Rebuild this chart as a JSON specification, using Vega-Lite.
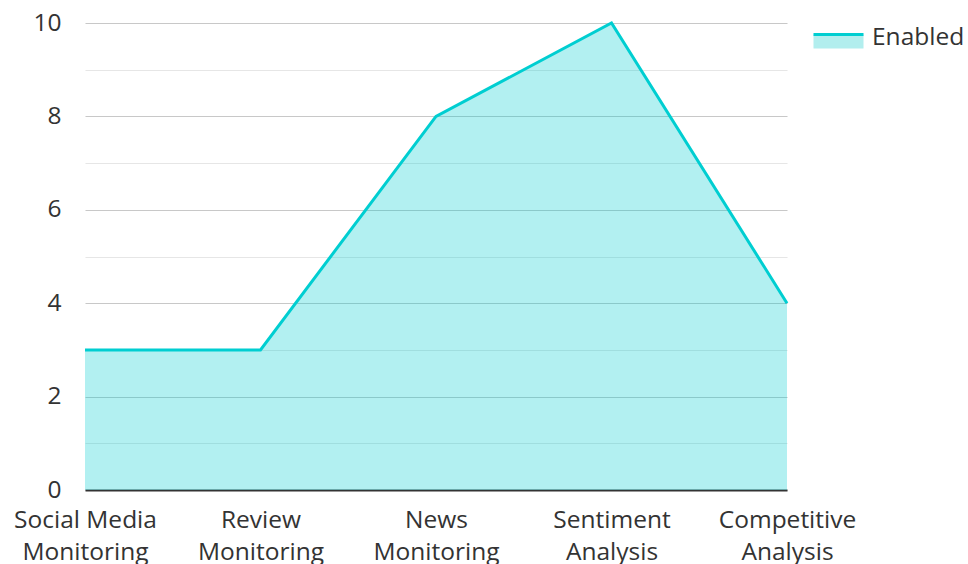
{
  "$schema": "https://vega.github.io/schema/vega-lite/v6.json",
  "width": 702,
  "height": 467,
  "autosize": {"type": "none"},
  "padding": {"left": 85, "top": 23, "right": 181, "bottom": 74},
  "background": "white",
  "config": {
    "font": "Open Sans",
    "view": {"stroke": null}
  },
  "data": {
    "values": [
      {"category": "Social Media Monitoring", "value": 3, "series": "Enabled"},
      {"category": "Review Monitoring", "value": 3, "series": "Enabled"},
      {"category": "News Monitoring", "value": 8, "series": "Enabled"},
      {"category": "Sentiment Analysis", "value": 10, "series": "Enabled"},
      {"category": "Competitive Analysis", "value": 4, "series": "Enabled"}
    ]
  },
  "encoding": {
    "x": {
      "field": "category",
      "type": "ordinal",
      "sort": null,
      "scale": {"type": "point", "padding": 0},
      "axis": {
        "title": null,
        "labelAngle": 0,
        "labelFontSize": 24.5,
        "labelColor": "#333333",
        "labelPadding": 18,
        "labelLineHeight": 32,
        "labelLimit": 0,
        "ticks": false,
        "domainColor": "#333333",
        "domainWidth": 2,
        "grid": false,
        "labelExpr": "[slice(datum.label, 0, lastindexof(datum.label, ' ')), slice(datum.label, lastindexof(datum.label, ' ') + 1)]"
      }
    },
    "y": {
      "field": "value",
      "type": "quantitative",
      "scale": {"domain": [0, 10], "nice": false},
      "axis": {
        "title": null,
        "values": [0, 1, 2, 3, 4, 5, 6, 7, 8, 9, 10],
        "labelExpr": "datum.value % 2 === 0 ? datum.label : ''",
        "labelFontSize": 24.5,
        "labelColor": "#333333",
        "labelPadding": 24,
        "ticks": false,
        "domain": false,
        "gridColor": {"condition": {"test": "datum.value % 2 === 0", "value": "#c8c8c8"}, "value": "#e6e6e6"},
        "gridWidth": 1.2
      }
    }
  },
  "layer": [
    {
      "mark": {"type": "area", "color": "#00ced1", "opacity": 0.3}
    },
    {
      "mark": {"type": "line", "strokeWidth": 3},
      "encoding": {
        "stroke": {
          "field": "series",
          "type": "nominal",
          "scale": {"range": ["#00ced1"]},
          "legend": {
            "title": null,
            "orient": "none",
            "legendX": 727,
            "legendY": -12,
            "padding": 0,
            "labelFontSize": 24.5,
            "labelColor": "#333333",
            "labelOffset": 7,
            "symbolType": "M-1,-0.12H1V0.44H-1Z",
            "symbolSize": 2500,
            "symbolStrokeWidth": 3,
            "encode": {
              "symbols": {
                "update": {
                  "fill": {"value": "#b2eeee"},
                  "fillOpacity": {"value": 1},
                  "stroke": {"value": "#00ced1"},
                  "strokeDash": {"value": [50, 300]},
                  "strokeWidth": {"value": 3},
                  "opacity": {"value": 1}
                }
              }
            }
          }
        }
      }
    }
  ]
}
